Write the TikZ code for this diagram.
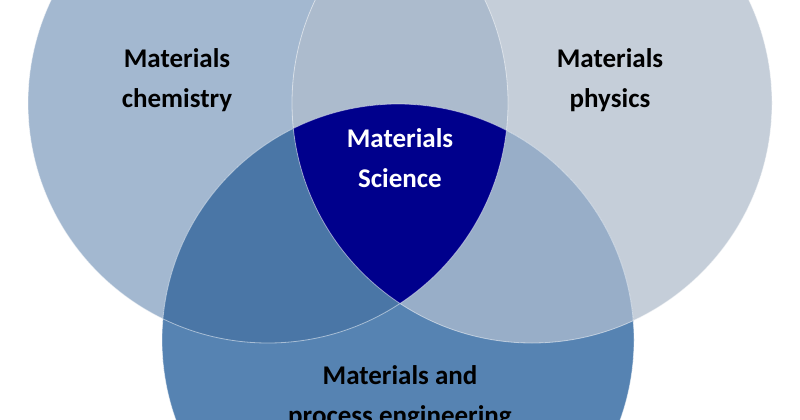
\documentclass[tikz,border=0pt]{standalone}
\usepackage{fontspec}
\setmainfont{Carlito}
\begin{document}
\begin{tikzpicture}[x=1pt,y=-1pt,
  lbl/.style={font=\fontsize{27}{40}\selectfont\bfseries,align=center,text=black}]
\useasboundingbox (0,0) rectangle (800,420);
\fill[white] (0,0) rectangle (800,420);
\def\L{(268,103) circle (240)}
\def\R{(532,103) circle (240)}
\def\B{(398,340) circle (236)}
\clip (0,0) rectangle (800,420);
\fill[fill={rgb,255:red,163;green,184;blue,208}] \L;
\fill[fill={rgb,255:red,197;green,206;blue,217}] \R;
\fill[fill={rgb,255:red,86;green,131;blue,178}] \B;
\begin{scope}\clip \L; \fill[fill={rgb,255:red,172;green,187;blue,205}] \R; \end{scope}
\begin{scope}\clip \L; \fill[fill={rgb,255:red,74;green,118;blue,166}] \B; \end{scope}
\begin{scope}\clip \R; \fill[fill={rgb,255:red,152;green,174;blue,200}] \B; \end{scope}
\begin{scope}\clip \L; \clip \R; \fill[fill={rgb,255:red,0;green,0;blue,140}] \B; \end{scope}
\draw[white,opacity=0.5,line width=0.8] \L \R \B;
\node[lbl] (chem) at (177,80) {Materials\\chemistry};
\node[lbl] (phys) at (610,80) {Materials\\physics};
\node[lbl,text=white] (sci) at (400,158) {Materials\\Science};
\node[lbl] (eng) at (400,397) {Materials and\\process engineering};
\end{tikzpicture}
\end{document}
